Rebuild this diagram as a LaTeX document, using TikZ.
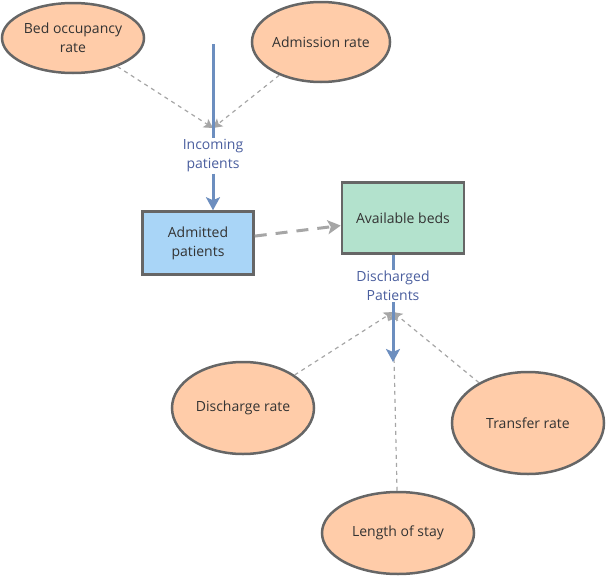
\documentclass[tikz,border=0pt]{standalone}
\usepackage{fontspec}
\setmainfont{Open Sans}
\usepackage{xcolor}
\usepackage{tikz}
\usetikzlibrary{arrows.meta}
\usetikzlibrary{shapes.geometric, calc}

\definecolor{peach}{HTML}{FFCCA9}
\definecolor{skyfill}{HTML}{A9D5F7}
\definecolor{mintfill}{HTML}{B3E2CD}
\definecolor{edgegrey}{HTML}{666666}
\definecolor{dashgrey}{HTML}{A6A6A6}
\definecolor{flowblue}{HTML}{6C8EBF}
\definecolor{labelblue}{HTML}{4A5E9E}
\definecolor{inkgrey}{HTML}{333333}

\begin{document}
\begin{tikzpicture}[x=1pt, y=-1pt,
    rate/.style={ellipse, draw=edgegrey, line width=2.5pt, fill=peach,
        text=inkgrey, align=center, inner sep=0pt,
        font=\fontsize{14}{19}\selectfont},
    stock/.style={rectangle, draw=edgegrey, line width=2.5pt,
        text=inkgrey, align=center, inner sep=0pt,
        font=\fontsize{14}{19}\selectfont},
    flowlbl/.style={text=labelblue, align=center, inner sep=1pt,
        font=\fontsize{14}{19}\selectfont},
    flow/.style={draw=flowblue, line width=3pt},
    flowarr/.style={flow, -{Stealth[length=13pt, width=14pt, inset=3pt]}},
    infl/.style={draw=dashgrey, line width=1.2pt, dash pattern=on 4pt off 4pt,
        -{Stealth[length=9pt, width=10pt, inset=2pt]}}]

    \useasboundingbox (0,0) rectangle (606,576);

    % Taux
    \node[rate, minimum width=142pt, minimum height=70pt] (bed) at (73,38) {Bed occupancy\\rate};
    \node[rate, minimum width=137pt, minimum height=80pt] (adr) at (321,42) {Admission rate};
    \node[rate, minimum width=142pt, minimum height=92pt] (dcr) at (243,408) {Discharge rate};
    \node[rate, minimum width=152pt, minimum height=102pt] (trr) at (528,423) {Transfer rate};
    \node[rate, minimum width=152pt, minimum height=82pt] (los) at (398,533) {Length of stay};

    % Stocks
    \node[stock, fill=skyfill, minimum width=111pt, minimum height=63pt] (adm) at (198,243) {Admitted\\patients};
    \node[stock, fill=mintfill, minimum width=122pt, minimum height=71pt] (avb) at (403,218) {Available beds};

    % Flux
    \node[flowlbl] (inc) at (213,156) {Incoming\\patients};
    \node[flowlbl] (dis) at (393,286) {Discharged\\Patients};
    \coordinate (inctop) at (213,44);
    \coordinate (inchit) at (213,128);
    \coordinate (disout) at (393,362);
    \coordinate (dishit) at (393,312);

    % Influences
    \draw[infl] (bed) -- (inchit);
    \draw[infl] (adr) -- (inchit);
    \draw[infl] (dcr) -- (dishit);
    \draw[infl] (trr) -- (dishit);
    \draw[infl] (los) -- (dishit);
    \draw[infl, line width=3pt, dash pattern=on 12pt off 9pt,
        -{Stealth[length=13pt, width=14pt, inset=3pt]}] (adm) -- (avb);

    \draw[flow] (inctop) -- (inc.north);
    \draw[flowarr] (inc.south) -- (inc.south |- adm.north);
    \draw[flow] (dis.north) -- (dis.north |- avb.south);
    \draw[flowarr] (dis.south) -- (disout);
\end{tikzpicture}
\end{document}
